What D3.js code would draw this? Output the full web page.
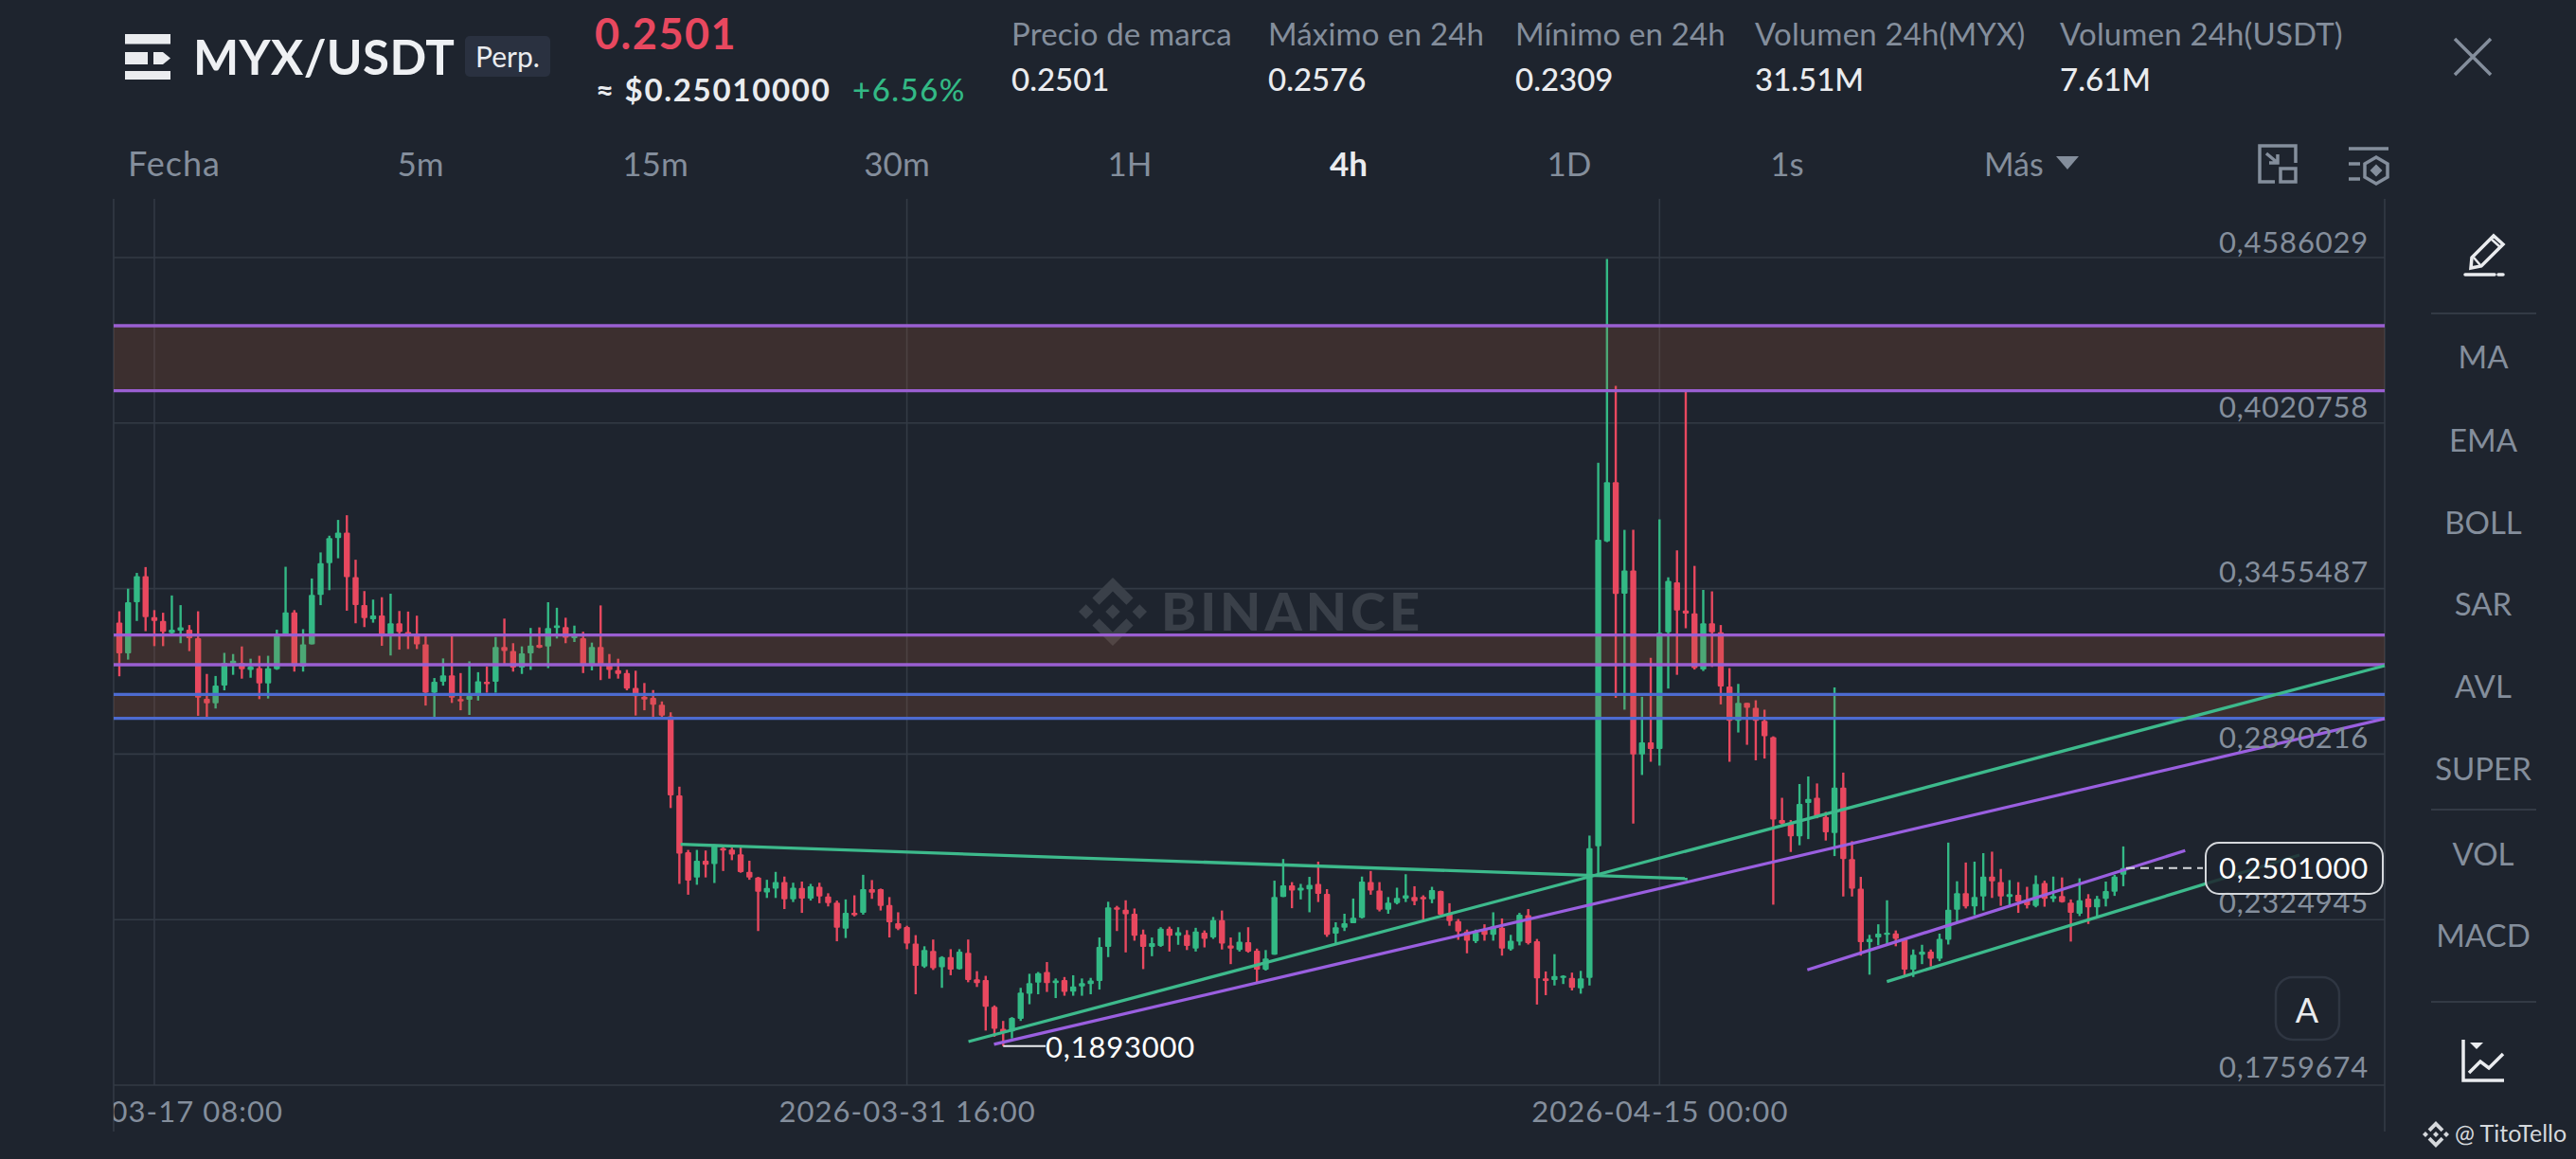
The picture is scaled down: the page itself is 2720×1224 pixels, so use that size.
<!DOCTYPE html>
<html lang="en">
<head>
<meta charset="UTF-8">
<title>MYX/USDT 4h</title>
<script src="https://d3js.org/d3.v7.min.js"></script>
<style>
html, body { margin: 0; padding: 0; background: #1e242e; }
svg { display: block; }
text { font-family: Lato, "Noto Sans", sans-serif; }
.y-axis path, .y-axis line, .x-axis path, .x-axis line { display: none; }
.y-axis text { font-size: 31px; fill: #848e9c; letter-spacing: 0.8px; }
.x-axis text { font-size: 31px; fill: #848e9c; letter-spacing: 1.05px; }
</style>
</head>
<body>
<div id="chart"></div>
<script>

// --------------------------------------
// Data
// --------------------------------------

var highs = [
0.3378,0.3455,0.3509,0.3529,0.3382,0.3373,0.3432,0.3399,0.3331,0.3378,
0.3164,0.3157,0.3236,0.3232,0.3258,0.3216,0.3226,0.3226,0.3315,0.3530,
0.3382,0.3317,0.3490,0.3579,0.3636,0.3690,0.3706,0.3554,0.3447,0.3418,
0.3426,0.3438,0.3379,0.3377,0.3363,0.3293,0.3150,0.3217,0.3293,0.3167,
0.3207,0.3170,0.3189,0.3290,0.3353,0.3269,0.3258,0.3321,0.3323,0.3409,
0.3390,0.3356,0.3329,0.3308,0.3271,0.3398,0.3232,0.3216,0.3178,0.3175,
0.3133,0.3109,0.3070,0.3033,0.2779,0.2563,0.2563,0.2561,0.2582,0.2575,
0.2571,0.2575,0.2526,0.2471,0.2461,0.2488,0.2472,0.2451,0.2455,0.2447,
0.2451,0.2415,0.2390,0.2394,0.2408,0.2478,0.2460,0.2431,0.2402,0.2350,
0.2304,0.2272,0.2234,0.2257,0.2200,0.2224,0.2224,0.2257,0.2149,0.2133,
0.2032,0.1979,0.1992,0.2092,0.2140,0.2146,0.2180,0.2124,0.2129,0.2135,
0.2124,0.2126,0.2264,0.2386,0.2372,0.2391,0.2363,0.2291,0.2264,0.2299,
0.2301,0.2299,0.2289,0.2297,0.2288,0.2334,0.2356,0.2264,0.2282,0.2299,
0.2226,0.2221,0.2458,0.2532,0.2453,0.2447,0.2471,0.2523,0.2429,0.2316,
0.2345,0.2397,0.2472,0.2491,0.2453,0.2402,0.2434,0.2480,0.2439,0.2408,
0.2437,0.2424,0.2381,0.2327,0.2291,0.2291,0.2309,0.2350,0.2329,0.2273,
0.2348,0.2361,0.2259,0.2148,0.2207,0.2135,0.2144,0.2150,0.2612,0.3885,
0.4581,0.4148,0.3656,0.3656,0.3086,0.3219,0.3692,0.3494,0.3586,0.4129,
0.3533,0.3451,0.3446,0.3331,0.3184,0.3130,0.3065,0.3074,0.3042,0.2951,
0.2741,0.2665,0.2788,0.2814,0.2790,0.2693,0.3118,0.2827,0.2593,0.2471,
0.2273,0.2309,0.2391,0.2288,0.2259,0.2223,0.2239,0.2223,0.2277,0.2588,
0.2456,0.2520,0.2523,0.2552,0.2557,0.2498,0.2460,0.2453,0.2437,0.2476,
0.2458,0.2472,0.2469,0.2394,0.2466,0.2412,0.2406,0.2455,0.2478,0.2575];

var lows = [
0.3156,0.3213,0.3345,0.3310,0.3259,0.3259,0.3299,0.3269,0.3242,0.3021,
0.3013,0.3046,0.3108,0.3161,0.3148,0.3151,0.3078,0.3080,0.3178,0.3293,
0.3172,0.3172,0.3265,0.3399,0.3450,0.3559,0.3380,0.3337,0.3324,0.3339,
0.3260,0.3227,0.3247,0.3249,0.3249,0.3056,0.3017,0.3124,0.3065,0.3040,
0.3024,0.3073,0.3100,0.3100,0.3199,0.3172,0.3164,0.3178,0.3252,0.3184,
0.3285,0.3269,0.3273,0.3167,0.3176,0.3143,0.3148,0.3148,0.3108,0.3022,
0.3040,0.3013,0.3017,0.2706,0.2447,0.2410,0.2444,0.2469,0.2450,0.2491,
0.2528,0.2485,0.2461,0.2286,0.2399,0.2399,0.2361,0.2385,0.2348,0.2390,
0.2381,0.2370,0.2251,0.2262,0.2336,0.2342,0.2396,0.2356,0.2264,0.2289,
0.2224,0.2070,0.2160,0.2153,0.2092,0.2135,0.2154,0.2111,0.2095,0.1946,
0.1925,0.1893,0.1919,0.1979,0.2036,0.2070,0.2078,0.2057,0.2065,0.2065,
0.2065,0.2070,0.2086,0.2197,0.2286,0.2213,0.2253,0.2156,0.2200,0.2232,
0.2216,0.2239,0.2221,0.2216,0.2230,0.2259,0.2223,0.2173,0.2216,0.2212,
0.2111,0.2151,0.2205,0.2402,0.2364,0.2394,0.2350,0.2385,0.2266,0.2243,
0.2286,0.2313,0.2329,0.2410,0.2353,0.2345,0.2377,0.2385,0.2374,0.2323,
0.2381,0.2340,0.2304,0.2256,0.2210,0.2245,0.2253,0.2253,0.2202,0.2219,
0.2237,0.2240,0.2035,0.2067,0.2100,0.2105,0.2083,0.2072,0.2100,0.2478,
0.3614,0.3082,0.3042,0.2653,0.2819,0.2864,0.2851,0.3114,0.3161,0.3320,
0.3179,0.3174,0.3188,0.3060,0.2864,0.2964,0.2922,0.2869,0.2875,0.2376,
0.2645,0.2556,0.2579,0.2600,0.2671,0.2595,0.2542,0.2404,0.2404,0.2202,
0.2137,0.2237,0.2237,0.2234,0.2135,0.2129,0.2173,0.2165,0.2183,0.2240,
0.2316,0.2363,0.2340,0.2356,0.2399,0.2372,0.2374,0.2348,0.2363,0.2367,
0.2369,0.2385,0.2383,0.2250,0.2337,0.2310,0.2331,0.2370,0.2406,0.2439];

var opens = [
0.3339,0.3234,0.3409,0.3498,0.3358,0.3345,0.3304,0.3312,0.3315,0.3286,
0.3079,0.3064,0.3124,0.3199,0.3202,0.3178,0.3184,0.3132,0.3180,0.3296,
0.3374,0.3189,0.3265,0.3434,0.3542,0.3628,0.3647,0.3495,0.3399,0.3351,
0.3364,0.3299,0.3337,0.3307,0.3294,0.3265,0.3100,0.3137,0.3159,0.3078,
0.3076,0.3089,0.3137,0.3137,0.3256,0.3242,0.3186,0.3234,0.3263,0.3258,
0.3321,0.3324,0.3286,0.3286,0.3193,0.3256,0.3197,0.3177,0.3167,0.3116,
0.3086,0.3082,0.3059,0.3019,0.2749,0.2555,0.2469,0.2526,0.2515,0.2569,
0.2564,0.2548,0.2488,0.2469,0.2418,0.2431,0.2453,0.2394,0.2433,0.2397,
0.2437,0.2404,0.2383,0.2294,0.2348,0.2348,0.2429,0.2429,0.2375,0.2313,
0.2300,0.2243,0.2165,0.2218,0.2162,0.2197,0.2156,0.2212,0.2121,0.2119,
0.2027,0.1952,0.1943,0.1986,0.2072,0.2110,0.2146,0.2108,0.2119,0.2079,
0.2097,0.2105,0.2115,0.2232,0.2367,0.2359,0.2345,0.2275,0.2232,0.2235,
0.2294,0.2270,0.2273,0.2226,0.2280,0.2264,0.2323,0.2237,0.2221,0.2248,
0.2219,0.2154,0.2205,0.2402,0.2442,0.2424,0.2428,0.2447,0.2413,0.2277,
0.2297,0.2313,0.2331,0.2453,0.2424,0.2359,0.2381,0.2397,0.2402,0.2402,
0.2394,0.2423,0.2343,0.2320,0.2284,0.2251,0.2291,0.2273,0.2297,0.2224,
0.2250,0.2340,0.2251,0.2124,0.2119,0.2126,0.2126,0.2090,0.2126,0.2575,
0.3617,0.3819,0.3438,0.3517,0.2889,0.2930,0.2908,0.3306,0.3477,0.3381,
0.3371,0.3179,0.3337,0.3306,0.3121,0.3004,0.3065,0.3048,0.3004,0.2948,
0.2665,0.2653,0.2609,0.2723,0.2741,0.2676,0.2621,0.2776,0.2532,0.2431,
0.2248,0.2264,0.2273,0.2278,0.2257,0.2154,0.2205,0.2216,0.2191,0.2256,
0.2359,0.2415,0.2370,0.2404,0.2472,0.2453,0.2402,0.2410,0.2391,0.2372,
0.2450,0.2396,0.2406,0.2383,0.2345,0.2397,0.2367,0.2396,0.2420,0.2478];

var closes = [
0.3234,0.3409,0.3498,0.3358,0.3345,0.3308,0.3315,0.3323,0.3286,0.3083,
0.3064,0.3124,0.3202,0.3209,0.3180,0.3189,0.3132,0.3183,0.3296,0.3374,
0.3191,0.3265,0.3434,0.3542,0.3628,0.3647,0.3495,0.3399,0.3355,0.3364,
0.3294,0.3337,0.3307,0.3294,0.3265,0.3100,0.3137,0.3159,0.3083,0.3070,
0.3089,0.3139,0.3129,0.3256,0.3242,0.3186,0.3234,0.3261,0.3254,0.3321,
0.3330,0.3288,0.3294,0.3197,0.3256,0.3197,0.3178,0.3164,0.3114,0.3088,
0.3077,0.3059,0.3022,0.2749,0.2550,0.2458,0.2526,0.2512,0.2575,0.2561,
0.2547,0.2487,0.2469,0.2420,0.2433,0.2453,0.2394,0.2434,0.2397,0.2439,
0.2404,0.2381,0.2297,0.2348,0.2340,0.2429,0.2417,0.2372,0.2316,0.2294,
0.2243,0.2167,0.2221,0.2159,0.2197,0.2154,0.2216,0.2119,0.2108,0.2027,
0.1952,0.1939,0.1989,0.2076,0.2108,0.2142,0.2108,0.2117,0.2078,0.2097,
0.2108,0.2117,0.2232,0.2367,0.2359,0.2343,0.2270,0.2232,0.2245,0.2294,
0.2270,0.2282,0.2235,0.2284,0.2259,0.2323,0.2243,0.2226,0.2250,0.2216,
0.2154,0.2192,0.2402,0.2442,0.2424,0.2434,0.2444,0.2413,0.2273,0.2299,
0.2313,0.2331,0.2455,0.2424,0.2359,0.2383,0.2399,0.2408,0.2388,0.2394,
0.2426,0.2342,0.2320,0.2284,0.2253,0.2280,0.2273,0.2302,0.2226,0.2253,
0.2342,0.2245,0.2124,0.2115,0.2132,0.2133,0.2092,0.2124,0.2569,0.3622,
0.3819,0.3437,0.3517,0.2889,0.2930,0.2908,0.3305,0.3482,0.3381,0.3370,
0.3184,0.3337,0.3306,0.3121,0.3004,0.3065,0.3048,0.3004,0.2951,0.2667,
0.2653,0.2609,0.2720,0.2737,0.2676,0.2623,0.2776,0.2532,0.2431,0.2248,
0.2259,0.2277,0.2280,0.2259,0.2154,0.2205,0.2216,0.2191,0.2259,0.2359,
0.2415,0.2370,0.2402,0.2472,0.2456,0.2404,0.2412,0.2386,0.2374,0.2447,
0.2396,0.2406,0.2385,0.2348,0.2391,0.2367,0.2396,0.2423,0.2472,0.2501];

// axis
var priceTicks = [0.4586029, 0.4020758, 0.3455487, 0.2890216, 0.2324945, 0.1759674];
var timeTicks = [4, 90, 176];
var timeLabels = ["2026-03-17 08:00", "2026-03-31 16:00", "2026-04-15 00:00"];

// drawings on the chart, prices
var purpleLevels = [0.43532, 0.41310, 0.32967, 0.31955];
var blueLevels = [0.30943, 0.30122];
var zones = [[0.43532, 0.41310], [0.32967, 0.31955], [0.30943, 0.30122]];
var greenTrends = [
  [[64.14, 0.25821], [179.2, 0.24647]],
  [[97.03, 0.19085], [258.87, 0.31923]],
  [[201.98, 0.21132], [249.13, 0.25456]]
];
var purpleTrends = [
  [[99.95, 0.18988], [258.87, 0.30112]],
  [[192.89, 0.21533], [236.07, 0.25608]]
];
var lowIndex = 101;
var lastPrice = 0.2501;

// header and side texts
var statLabels = ["Precio de marca", "Máximo en 24h", "Mínimo en 24h", "Volumen 24h(MYX)", "Volumen 24h(USDT)"];
var statValues = ["0.2501", "0.2576", "0.2309", "31.51M", "7.61M"];
var statX = [1068, 1339, 1600, 1853, 2175];
var tabLabels = ["5m", "15m", "30m", "1H", "4h", "1D", "1s"];
var tabX = [444, 692, 947, 1193, 1424, 1657, 1887];
var sideLabels = ["MA", "EMA", "BOLL", "SAR", "AVL", "SUPER", "VOL", "MACD"];
var sideY = [377, 465, 552, 638, 725, 812, 902, 988];

// colours
var UP = "#33b985", DOWN = "#e8485f", BG = "#1e242e", GREY = "#848e9c", WHITE = "#eaecef";
var GRID = "#333a45", PURPLE = "#9a5fd2", BLUE = "#4d6bd0", TREND_PURPLE = "#9a5fe0", TREND_GREEN = "#3dba8c";

// --------------------------------------
// Size and SVG
// --------------------------------------

var totalWidth = 2720, totalHeight = 1224;
var plot = {left: 120, right: 2518, top: 210, bottom: 1146, frame: 1195};

var svg = d3.select("#chart").append("svg")
  .attr("width", totalWidth)
  .attr("height", totalHeight);

svg.append("rect").attr("width", totalWidth).attr("height", totalHeight).attr("fill", BG);

svg.append("defs").append("clipPath").attr("id", "plotClip")
  .append("rect")
  .attr("x", plot.left).attr("y", plot.top)
  .attr("width", plot.right - plot.left).attr("height", totalHeight - plot.top);

// --------------------------------------
// Scales
// --------------------------------------

var xscale = d3.scaleLinear().domain([0, 229]).range([126, 2242]);
var yscale = d3.scaleLinear().domain([0.1759674, 0.4586029]).range([1146, 272]);

// --------------------------------------
// Grid and frame
// --------------------------------------

var grid = svg.append("g").attr("stroke", GRID).attr("stroke-width", 1.6);
grid.selectAll(".h").data(priceTicks).join("line").attr("class", "h")
  .attr("x1", plot.left).attr("x2", plot.right)
  .attr("y1", d => yscale(d)).attr("y2", d => yscale(d));
grid.selectAll(".v").data(timeTicks).join("line").attr("class", "v")
  .attr("x1", d => xscale(d)).attr("x2", d => xscale(d))
  .attr("y1", plot.top).attr("y2", plot.bottom);
grid.selectAll(".f").data([plot.left, plot.right]).join("line").attr("class", "f")
  .attr("x1", d => d).attr("x2", d => d)
  .attr("y1", plot.top).attr("y2", plot.frame);

// --------------------------------------
// Binance logo (watermark and corner)
// --------------------------------------

function binanceLogo(g, cx, cy, r, fill) {
  var u = r / 35;
  var p = function(pts) {
    g.append("polygon").attr("fill", fill)
      .attr("points", pts.map(q => (cx + q[0] * u) + "," + (cy + q[1] * u)).join(" "));
  };
  p([[0, -7.5], [7.5, 0], [0, 7.5], [-7.5, 0]]);
  p([[-35, 0], [-27.5, -7.5], [-20, 0], [-27.5, 7.5]]);
  p([[35, 0], [27.5, -7.5], [20, 0], [27.5, 7.5]]);
  p([[0, -35], [21, -14], [14, -7], [0, -21], [-14, -7], [-21, -14]]);
  p([[0, 35], [21, 14], [14, 7], [0, 21], [-14, 7], [-21, 14]]);
}

var mark = svg.append("g");
binanceLogo(mark, 1175, 646, 36, "#3a4049");
mark.append("text").attr("x", 1226).attr("y", 666)
  .attr("font-size", 56).attr("font-weight", 900).attr("letter-spacing", 4)
  .attr("fill", "#3a4049").text("BINANCE");

// --------------------------------------
// Candles
// --------------------------------------

var candles = d3.range(highs.length);
var candleColor = i => closes[i] >= opens[i] ? UP : DOWN;

var candleG = svg.append("g");
candleG.selectAll(".wick").data(candles).join("line").attr("class", "wick")
  .attr("x1", i => xscale(i)).attr("x2", i => xscale(i))
  .attr("y1", i => yscale(highs[i])).attr("y2", i => yscale(lows[i]))
  .attr("stroke", candleColor).attr("stroke-width", 2.4);
candleG.selectAll(".body").data(candles).join("rect").attr("class", "body")
  .attr("x", i => xscale(i) - 3.2).attr("width", 6.4)
  .attr("y", i => yscale(Math.max(opens[i], closes[i])))
  .attr("height", i => Math.max(2, Math.abs(yscale(opens[i]) - yscale(closes[i]))))
  .attr("rx", 1).attr("fill", candleColor);

// --------------------------------------
// Zones and drawn lines
// --------------------------------------

svg.append("g").selectAll("rect").data(zones).join("rect")
  .attr("x", plot.left).attr("width", plot.right - plot.left)
  .attr("y", d => yscale(d[0])).attr("height", d => yscale(d[1]) - yscale(d[0]))
  .attr("fill", "rgb(180,96,56)").attr("fill-opacity", 0.2);

var levels = svg.append("g").attr("stroke-width", 3.3);
levels.selectAll(".p").data(purpleLevels).join("line").attr("class", "p")
  .attr("x1", plot.left).attr("x2", plot.right)
  .attr("y1", d => yscale(d)).attr("y2", d => yscale(d)).attr("stroke", PURPLE);
levels.selectAll(".b").data(blueLevels).join("line").attr("class", "b")
  .attr("x1", plot.left).attr("x2", plot.right)
  .attr("y1", d => yscale(d)).attr("y2", d => yscale(d)).attr("stroke", BLUE);

var trendLine = d3.line().x(d => xscale(d[0])).y(d => yscale(d[1]));
var trends = svg.append("g").attr("fill", "none").attr("stroke-width", 3.3);
trends.selectAll(".g").data(greenTrends).join("path").attr("class", "g")
  .attr("d", trendLine).attr("stroke", TREND_GREEN);
trends.selectAll(".t").data(purpleTrends).join("path").attr("class", "t")
  .attr("d", trendLine).attr("stroke", TREND_PURPLE);

// --------------------------------------
// Axes
// --------------------------------------

var formatPrice = d => d3.format(".7f")(d).replace(".", ",");

svg.append("g").attr("class", "y-axis")
  .attr("transform", "translate(2501,0)")
  .call(d3.axisLeft(yscale).tickValues(priceTicks).tickSize(0).tickPadding(0).tickFormat(formatPrice))
  .call(g => g.selectAll("text").attr("y", 0).attr("dy", (d, i) => -(5.3 + 0.68 * i)));

svg.append("g").attr("clip-path", "url(#plotClip)")
  .append("g").attr("class", "x-axis")
  .attr("transform", "translate(0,1146)")
  .call(d3.axisBottom(xscale).tickValues(timeTicks).tickSize(0).tickPadding(0)
    .tickFormat((d, i) => timeLabels[i]))
  .call(g => g.selectAll("text").attr("y", 39).attr("dy", 0).attr("text-anchor", "middle"));

// low marker
svg.append("line")
  .attr("x1", xscale(lowIndex)).attr("x2", 1104)
  .attr("y1", yscale(lows[lowIndex])).attr("y2", yscale(lows[lowIndex]))
  .attr("stroke", WHITE).attr("stroke-width", 2);
svg.append("text").attr("x", 1104).attr("y", 1117)
  .attr("font-size", 31).attr("letter-spacing", 0.8).attr("fill", "#fff")
  .text(formatPrice(lows[lowIndex]));

// last price
svg.append("line")
  .attr("x1", xscale(229) + 3).attr("x2", 2326)
  .attr("y1", yscale(lastPrice)).attr("y2", yscale(lastPrice))
  .attr("stroke", "#d5d8dc").attr("stroke-width", 1.8).attr("stroke-dasharray", "9 6");
svg.append("rect").attr("x", 2329).attr("y", 890).attr("width", 187).attr("height", 54).attr("rx", 14)
  .attr("fill", BG).attr("fill-opacity", 0.85).attr("stroke", "#d5d8dc").attr("stroke-width", 2);
svg.append("text").attr("x", 2501).attr("y", 928).attr("text-anchor", "end")
  .attr("font-size", 31).attr("letter-spacing", 0.8).attr("fill", "#fff")
  .text(formatPrice(lastPrice));

// A button
svg.append("rect").attr("x", 2403).attr("y", 1032).attr("width", 67).attr("height", 66).attr("rx", 18)
  .attr("fill", "none").attr("stroke", "#2f3642").attr("stroke-width", 2.5);
svg.append("text").attr("x", 2436).attr("y", 1080).attr("text-anchor", "middle")
  .attr("font-size", 36).attr("fill", WHITE).text("A");

// --------------------------------------
// Header
// --------------------------------------

var head = svg.append("g");
head.append("rect").attr("x", 132).attr("y", 36).attr("width", 48).attr("height", 10.5).attr("fill", WHITE);
head.append("rect").attr("x", 132).attr("y", 55).attr("width", 24).attr("height", 13).attr("fill", WHITE);
head.append("polygon").attr("points", "162,55 172,55 180,61.5 172,68 162,68").attr("fill", WHITE);
head.append("rect").attr("x", 132).attr("y", 75).attr("width", 48).attr("height", 9).attr("fill", WHITE);

head.append("text").attr("x", 204).attr("y", 79).attr("font-size", 51).attr("font-weight", 700)
  .attr("letter-spacing", 0.4).attr("fill", "#eef0f3").text("MYX/USDT");
head.append("rect").attr("x", 491).attr("y", 38).attr("width", 90).attr("height", 43).attr("rx", 5).attr("fill", "#2a3140");
head.append("text").attr("x", 536).attr("y", 71).attr("text-anchor", "middle").attr("font-size", 30)
  .attr("fill", WHITE).text("Perp.");

head.append("text").attr("x", 628).attr("y", 52).attr("font-size", 45).attr("font-weight", 700)
  .attr("letter-spacing", 1.5).attr("fill", DOWN).text("0.2501");
head.append("text").attr("x", 629).attr("y", 107).attr("font-size", 33).attr("font-weight", 700)
  .attr("letter-spacing", 1.7).attr("fill", WHITE).text("≈ $0.25010000");
head.append("text").attr("x", 900).attr("y", 107).attr("font-size", 33).attr("font-weight", 500)
  .attr("letter-spacing", 1.5).attr("fill", UP).text("+6.56%");

head.selectAll(".stat-label").data(statLabels).join("text").attr("class", "stat-label")
  .attr("x", (d, i) => statX[i]).attr("y", 48).attr("font-size", 33).attr("letter-spacing", 0.15)
  .attr("fill", GREY).text(d => d);
head.selectAll(".stat-value").data(statValues).join("text").attr("class", "stat-value")
  .attr("x", (d, i) => statX[i]).attr("y", 96).attr("font-size", 33).attr("font-weight", 500)
  .attr("fill", WHITE).text(d => d);

// close
head.append("path").attr("d", "M2592,41 L2630,79 M2630,41 L2592,79")
  .attr("stroke", GREY).attr("stroke-width", 3.5).attr("fill", "none");

// --------------------------------------
// Tabs
// --------------------------------------

var tabs = svg.append("g");
tabs.append("text").attr("x", 135).attr("y", 186).attr("font-size", 36).attr("letter-spacing", 1).attr("fill", GREY).text("Fecha");
tabs.selectAll(".tab").data(tabLabels).join("text").attr("class", "tab")
  .attr("x", (d, i) => tabX[i]).attr("y", 186).attr("text-anchor", "middle")
  .attr("font-size", 35)
  .attr("font-weight", d => d === "4h" ? 700 : 400)
  .attr("fill", d => d === "4h" ? WHITE : GREY).text(d => d);
tabs.append("text").attr("x", 2095).attr("y", 186).attr("font-size", 34).attr("fill", GREY).text("Más");
tabs.append("polygon").attr("points", "2171,165 2195,165 2183,179").attr("fill", GREY);

var icons = svg.append("g").attr("fill", "none").attr("stroke", GREY).attr("stroke-width", 3.5);
icons.append("path").attr("d", "M2402,192 L2386,192 L2386,154 L2424,154 L2424,172");
icons.append("rect").attr("x", 2408).attr("y", 178).attr("width", 16).attr("height", 14);
icons.append("path").attr("d", "M2393,162 L2405,172 M2405,163 L2405,172 L2396,172");
icons.append("path").attr("d", "M2480,157 L2522,157 M2480,173 L2492,173 M2480,189 L2492,189");
icons.append("polygon").attr("points", "2509,166 2521,173 2521,187 2509,194 2497,187 2497,173");
icons.append("polygon").attr("points", "2509,176 2513,180 2509,184 2505,180").attr("fill", GREY);

// --------------------------------------
// Side bar
// --------------------------------------

var side = svg.append("g");
side.selectAll(".side").data(sideLabels).join("text").attr("class", "side")
  .attr("x", 2622).attr("y", (d, i) => sideY[i] + 12).attr("text-anchor", "middle")
  .attr("font-size", 33).attr("fill", GREY).text(d => d);
side.selectAll(".sep").data([331, 855, 1058]).join("line").attr("class", "sep")
  .attr("x1", 2567).attr("x2", 2678).attr("y1", d => d).attr("y2", d => d)
  .attr("stroke", GRID).attr("stroke-width", 2);

// pen
var pen = side.append("g").attr("fill", "none").attr("stroke", WHITE).attr("stroke-width", 3.5);
pen.append("path").attr("d", "M2609,283 L2610,272 L2633,249 L2643,258 L2620,281 Z");
pen.append("path").attr("d", "M2612,272 L2619,280 M2630,252 L2640,261").attr("stroke-width", 2.5);
pen.append("path").attr("d", "M2603,290 L2634,290 M2638,290 L2643,290").attr("stroke-linecap", "round");

// chart icon
var chartIcon = side.append("g").attr("fill", "none").attr("stroke", WHITE).attr("stroke-width", 3.5);
chartIcon.append("path").attr("d", "M2601,1098 L2601,1141 L2644,1141");
chartIcon.append("path").attr("d", "M2607,1133 L2619,1121 L2628,1128 L2643,1113");
side.append("polygon").attr("points", "2608,1101 2622,1101 2615,1108").attr("fill", WHITE);

// credit
var credit = svg.append("g");
binanceLogo(credit, 2572, 1198, 14, "#d5d8dc");
credit.append("text").attr("x", 2592).attr("y", 1206).attr("font-size", 25).attr("fill", "#d5d8dc").text("@ TitoTello");

</script>
</body>
</html>
